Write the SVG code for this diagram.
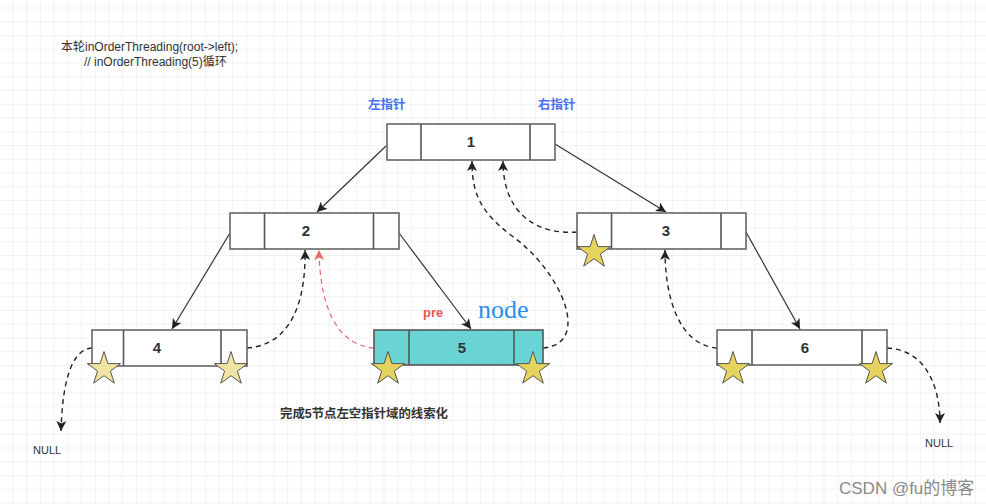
<svg xmlns="http://www.w3.org/2000/svg" width="986" height="504" viewBox="0 0 986 504">
<defs>
  <pattern id="grid" patternUnits="userSpaceOnUse" x="12.25" y="7.5" width="13.75" height="13.75">
    <path d="M0,0 H13.75 M0,0 V13.75" fill="none" stroke="#e8e8e8" stroke-width="1"/>
  </pattern>
  <marker id="arr" markerUnits="userSpaceOnUse" markerWidth="12" markerHeight="10" refX="10" refY="5" orient="auto">
    <path d="M0,0 L10,5 L0,10 L2.5,5 Z" fill="#222"/>
  </marker>
  <marker id="arrRed" markerUnits="userSpaceOnUse" markerWidth="12" markerHeight="10" refX="10" refY="5" orient="auto">
    <path d="M0,0 L10,5 L0,10 L2.5,5 Z" fill="#ee6666"/>
  </marker>
  <polygon id="star" points="0,-17.5 3.9,-5.4 16.6,-5.4 6.4,2.1 10.3,14.2 0,6.7 -10.3,14.2 -6.4,2.1 -16.6,-5.4 -3.9,-5.4"/>
  <style>
    .box{fill:#fff;stroke:#666;stroke-width:1.6}
    .cyan{fill:#6ad3d4;stroke:#555;stroke-width:1.6}
    .div{stroke:#555;stroke-width:1.6}
    .num{font-family:"Liberation Sans",Arial,sans-serif;font-size:15px;font-weight:bold;fill:#333;text-anchor:middle}
    .star{fill:#e6d35e;stroke:#555;stroke-width:1}
    .starPale{fill:#f1e4a2;stroke:#555;stroke-width:1}
    .solid{fill:none;stroke:#333;stroke-width:1.2}
    .dash{fill:none;stroke:#222;stroke-width:1.4;stroke-dasharray:5,4}
    .dashRed{fill:none;stroke:#ee6666;stroke-width:1.2;stroke-dasharray:5,4}
    .txt{font-family:"Liberation Sans","Noto Sans CJK SC",sans-serif;fill:#333}
    .blue{font-family:"Liberation Sans","Noto Sans CJK SC",sans-serif;font-size:12.5px;font-weight:bold;fill:#4a6ff0}
  </style>
</defs>
<rect width="986" height="504" fill="#fff"/>
<rect width="986" height="504" fill="url(#grid)"/>

<text class="txt" x="61" y="51" font-size="12">本轮inOrderThreading(root-&gt;left);</text>
<text class="txt" x="84" y="66" font-size="12">// inOrderThreading(5)循环</text>

<text class="blue" x="368" y="109">左指针</text>
<text class="blue" x="538" y="109">右指针</text>

<g id="connectors">
  <path class="solid" d="M386,146 L317,212" marker-end="url(#arr)"/>
  <path class="solid" d="M555,144 L666,212" marker-end="url(#arr)"/>
  <path class="solid" d="M230,233 L172,329" marker-end="url(#arr)"/>
  <path class="solid" d="M399,233 L471,329" marker-end="url(#arr)"/>
  <path class="solid" d="M746,232 L800,329" marker-end="url(#arr)"/>
  <path class="dash" d="M92,348 C66,350 62,400 61,431" marker-end="url(#arr)"/>
  <path class="dash" d="M247,348 C292,345 306,300 305,250" marker-end="url(#arr)"/>
  <path class="dashRed" d="M374,348 C338,345 320,310 319,250" marker-end="url(#arrRed)"/>
  <path class="dash" d="M543,348 C592,344 562,272 512,236 C479,211 472,192 472,161" marker-end="url(#arr)"/>
  <path class="dash" d="M577,232 C538,235 503,215 503,161" marker-end="url(#arr)"/>
  <path class="dash" d="M717,348 C680,345 665,300 665,250" marker-end="url(#arr)"/>
  <path class="dash" d="M887,348 C928,350 940,390 940,423" marker-end="url(#arr)"/>
</g>

<g id="node1">
  <rect class="box" x="387" y="124" width="168" height="36"/>
  <line class="div" x1="421" y1="124" x2="421" y2="160"/>
  <line class="div" x1="530" y1="124" x2="530" y2="160"/>
  <text class="num" x="471" y="147">1</text>
</g>
<g id="node2">
  <rect class="box" x="230" y="213" width="169" height="36"/>
  <line class="div" x1="264.5" y1="213" x2="264.5" y2="249"/>
  <line class="div" x1="373.5" y1="213" x2="373.5" y2="249"/>
  <text class="num" x="306" y="236">2</text>
</g>
<g id="node3">
  <rect class="box" x="577" y="213" width="169" height="36"/>
  <line class="div" x1="611.5" y1="213" x2="611.5" y2="249"/>
  <line class="div" x1="721" y1="213" x2="721" y2="249"/>
  <text class="num" x="666" y="236" font-weight="normal">3</text>
  <use href="#star" class="star" x="594" y="252"/>
</g>
<g id="node4">
  <rect class="box" x="92" y="330" width="155" height="36"/>
  <line class="div" x1="123.5" y1="330" x2="123.5" y2="366"/>
  <line class="div" x1="221" y1="330" x2="221" y2="366"/>
  <text class="num" x="157" y="353" font-weight="normal">4</text>
  <use href="#star" class="starPale" x="104" y="369"/>
  <use href="#star" class="starPale" x="231" y="369"/>
</g>
<g id="node5">
  <rect class="cyan" x="374" y="330" width="169" height="35"/>
  <line class="div" x1="409" y1="330" x2="409" y2="365"/>
  <line class="div" x1="514" y1="330" x2="514" y2="365"/>
  <text class="num" x="462" y="353">5</text>
  <use href="#star" class="star" x="388" y="369"/>
  <use href="#star" class="star" x="533" y="369"/>
</g>
<g id="node6">
  <rect class="box" x="717" y="330" width="170" height="35"/>
  <line class="div" x1="752" y1="330" x2="752" y2="365"/>
  <line class="div" x1="862" y1="330" x2="862" y2="365"/>
  <text class="num" x="805" y="353">6</text>
  <use href="#star" class="star" x="733" y="369"/>
  <use href="#star" class="star" x="876" y="369"/>
</g>

<text x="423" y="317" font-family="Liberation Sans,sans-serif" font-size="13" font-weight="bold" fill="#ee5555">pre</text>
<text x="478" y="318" font-family="Liberation Serif,serif" font-size="26" fill="#2a8ef0">node</text>

<text class="txt" x="280" y="418" font-size="12.4" font-weight="bold">完成5节点左空指针域的线索化</text>
<text class="txt" x="33" y="454" font-size="11">NULL</text>
<text class="txt" x="925" y="447" font-size="11">NULL</text>
<text x="839" y="494" font-family="Liberation Sans,'Noto Sans CJK SC',sans-serif" font-size="17" fill="#8a8a8a">CSDN @fu的博客</text>
</svg>
